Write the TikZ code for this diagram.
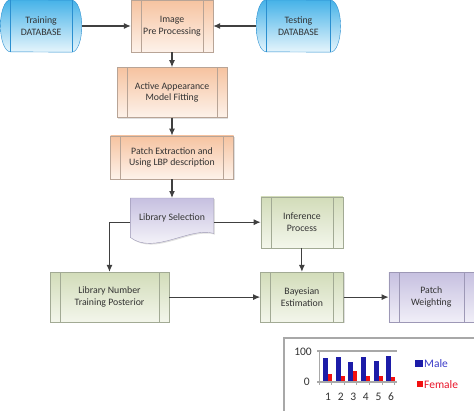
\documentclass[tikz,border=0pt]{standalone}
\usepackage{fontspec}
\setmainfont{Carlito}
\usepackage{xcolor}
\usetikzlibrary{shapes.geometric, arrows.meta, positioning, backgrounds, shadows}

\definecolor{dbtop}{HTML}{45B2E8}
\definecolor{dbbot}{HTML}{E6F5FC}
\definecolor{dbline}{HTML}{2A8FD0}
\definecolor{ortop}{HTML}{F6C3A0}
\definecolor{orbot}{HTML}{FDF2EA}
\definecolor{orline}{HTML}{B8A496}
\definecolor{grtop}{HTML}{D2DCB9}
\definecolor{grbot}{HTML}{F3F6EB}
\definecolor{grline}{HTML}{A2AA94}
\definecolor{putop}{HTML}{C6C0E0}
\definecolor{pubot}{HTML}{F1EFF8}
\definecolor{puline}{HTML}{9D98B6}
\definecolor{arrowgray}{HTML}{404040}
\definecolor{txtgray}{HTML}{333333}
\definecolor{framegray}{HTML}{A8A8A8}
\definecolor{malebar}{HTML}{1C1CA8}
\definecolor{femalebar}{HTML}{F21010}
\definecolor{maletext}{HTML}{3A3AC8}
\definecolor{femaletext}{HTML}{E81428}

\begin{document}
\begin{tikzpicture}[
    x=1pt, y=-1pt,
    sidelines/.style={path picture={
        \draw[#1] ([xshift=10pt]path picture bounding box.north west) -- ([xshift=10pt]path picture bounding box.south west);
        \draw[#1] ([xshift=-10pt]path picture bounding box.north east) -- ([xshift=-10pt]path picture bounding box.south east);}},
    boxshadow/.style={drop shadow={shadow xshift=1.2pt, shadow yshift=-1.2pt, opacity=0.25}},
    block/.style={rectangle, draw=orline, top color=ortop, bottom color=orbot, sidelines=orline, boxshadow, minimum height=50pt, align=center, text=txtgray, font=\fontsize{9.8}{11.5}\selectfont},
    greenblock/.style={block, draw=grline, top color=grtop, bottom color=grbot, sidelines=grline},
    purpleblock/.style={block, draw=puline, top color=putop, bottom color=pubot, sidelines=puline},
    dbase/.style={rectangle, minimum height=52pt, align=center, text=txtgray, font=\fontsize{9.8}{11.5}\selectfont},
    dbdraw/.style={draw=dbline, top color=dbtop, bottom color=dbbot},
    doc/.style={rectangle, minimum width=83pt, minimum height=48pt, text depth=10pt, align=center, text=txtgray, font=\fontsize{9.8}{11.5}\selectfont},
    arrow/.style={-{Latex[length=7pt,width=6pt]}, line width=1.1pt, draw=arrowgray},
    charttext/.style={text=txtgray, font=\fontsize{11.5}{13}\selectfont, inner sep=1pt}
]
\useasboundingbox (0,0) rectangle (474,410);

\node (image) [block, minimum width=82pt, minimum height=52pt] at (172,26) {Image\\Pre Processing};
\node (training) [dbase, minimum width=61pt, left=59pt of image] {Training\\DATABASE};
\node (testing) [dbase, minimum width=64pt, right=53pt of image] {Testing\\DATABASE};
\node (active) [block, minimum width=110pt, below=15pt of image] {Active Appearance\\Model Fitting};
\node (patch) [block, minimum width=123pt, minimum height=43pt, below=18pt of active] {Patch Extraction and\\Using LBP description};
\node (libsel) [doc, below=19pt of patch] {Library Selection};
\node (inference) [greenblock, minimum width=82pt, minimum height=51pt, right=47pt of libsel] {Inference\\Process};
\node (bayes) [greenblock, minimum width=83pt, below=24pt of inference] {Bayesian\\Estimation};
\node (libnum) [greenblock, minimum width=119pt, left=91pt of bayes] {Library Number\\Training Posterior};
\node (weight) [purpleblock, minimum width=85pt, right=45pt of bayes] {Patch\\Weighting};

% database drums and document shape behind their text
\begin{scope}[on background layer]
\foreach \db in {training, testing} {
    \draw[dbdraw] (\db.north west) arc[start angle=90, end angle=270, x radius=10pt, y radius=26pt]
        -- (\db.south east) arc[start angle=-90, end angle=90, x radius=10pt, y radius=26pt] -- cycle;
    \draw[dbline] (\db.north west) -- (\db.south west);
    \draw[dbline] (\db.north east) -- (\db.south east);
}
\draw[draw=puline, top color=putop, bottom color=white, boxshadow]
    (libsel.north west) -- ([yshift=9pt]libsel.south west)
    .. controls +(24,18) and +(-24,-7) .. ([yshift=13pt]libsel.south east)
    -- (libsel.north east) -- cycle;
\end{scope}

\draw [arrow] ([xshift=10pt]training.east) -- (image.west);
\draw [arrow] ([xshift=-10pt]testing.west) -- (image.east);
\draw [arrow] (image) -- (active);
\draw [arrow] (active) -- (patch);
\draw [arrow] (patch) -- (libsel);
\draw [arrow] (libsel.east) -- (inference.west);
\draw [arrow] (libsel.west) -| (libnum.north);
\draw [arrow] (inference) -- (bayes);
\draw [arrow] (libnum) -- (bayes);
\draw [arrow] (bayes) -- (weight);

% bar chart
\draw[framegray, line width=1.3pt] (284,338) rectangle (480,420);
\draw[framegray, line width=1.4pt] (317,351) -- (397,351);
\draw[framegray, line width=1pt] (319,351) -- (319,385);
\foreach \m/\f [count=\i] in {76/25,82/19,65/35,80/20,69/20,85/16} {
    \pgfmathsetmacro\cx{315.5+12.6*\i}
    \fill[malebar] ({\cx-5},382) rectangle (\cx,{382-0.31*\m});
    \fill[femalebar] (\cx,382) rectangle ({\cx+4},{382-0.31*\f});
    \node[charttext] at (\cx,397) {\i};
}
\draw[framegray, line width=1.2pt] (317,382) -- (397,382);
\foreach \k in {0,...,6}
    \draw[framegray, line width=0.8pt] ({319+12.6*\k},382) -- ({319+12.6*\k},385);
\node[charttext, anchor=east] at (313,352) {100};
\node[charttext, anchor=east] at (311,382) {0};
\fill[malebar] (415,360) rectangle (422.5,367);
\fill[femalebar] (416.5,381) rectangle (422.5,386.5);
\node[charttext, text=maletext, anchor=west] at (423,364) {Male};
\node[charttext, text=femaletext, anchor=west] at (423,384.5) {Female};
\end{tikzpicture}
\end{document}
